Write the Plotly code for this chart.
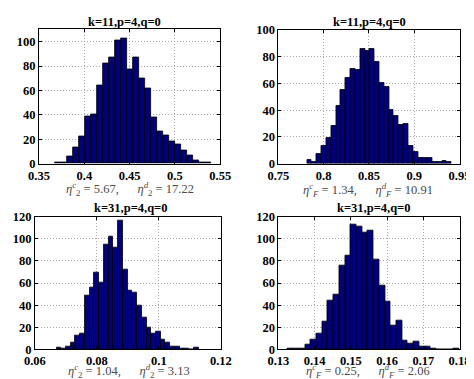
import plotly.graph_objects as go

# ---------------- data ----------------
titles = ["k=11,p=4,q=0", "k=11,p=4,q=0", "k=31,p=4,q=0", "k=31,p=4,q=0"]

counts_a = [1, 1, 6, 13, 22, 39, 40, 64, 82, 87, 101, 103, 77, 87, 70, 62, 38, 26,
            23, 18, 16, 11, 7, 3, 1, 1]
edges_a = [0.3678, 0.5402]

counts_b = [3, 1, 7, 13, 19, 28, 43, 55, 64, 71, 70, 86, 84, 86, 76, 60, 57, 40,
            36, 29, 30, 13, 9, 4, 4, 4, 1, 1, 2, 1]
edges_b = [0.7816, 0.9413]

counts_c = [2, 1, 3, 6, 13, 14, 49, 56, 69, 60, 95, 102, 92, 116, 72, 53, 51, 40,
            29, 20, 14, 16, 9, 6, 3, 3, 1, 1, 0, 2]
edges_c = [0.06695, 0.1128]

counts_d = [1, 1, 1, 4, 9, 14, 25, 44, 50, 76, 85, 113, 111, 106, 107, 81, 58, 43,
            22, 26, 8, 5, 7, 3, 3, 1, 0, 0, 0, 1]
edges_d = [0.1326, 0.1799]

xrange_a, xrange_b, xrange_c, xrange_d = [0.35, 0.55], [0.75, 0.95], [0.06, 0.12], [0.13, 0.18]
yrange_a, yrange_b, yrange_c, yrange_d = [0, 110], [0, 100], [0, 120], [0, 120]

xticks_a = [0.35, 0.4, 0.45, 0.5, 0.55]
xlabels_a = ["0.35", "0.4", "0.45", "0.5", "0.55"]
xticks_b = [0.75, 0.8, 0.85, 0.9, 0.95]
xlabels_b = ["0.75", "0.8", "0.85", "0.9", "0.95"]
xticks_c = [0.06, 0.08, 0.1, 0.12]
xlabels_c = ["0.06", "0.08", "0.1", "0.12"]
xticks_d = [0.13, 0.14, 0.15, 0.16, 0.17, 0.18]
xlabels_d = ["0.13", "0.14", "0.15", "0.16", "0.17", "0.18"]

yticks_a = [0, 20, 40, 60, 80, 100]
yticks_b = [0, 20, 40, 60, 80, 100]
yticks_c = [0, 20, 40, 60, 80, 100, 120]
yticks_d = [0, 20, 40, 60, 80, 100, 120]

eta_sub = ["2", "F", "2", "F"]
eta_c = ["5.67", "1.34", "1.04", "0.25"]
eta_d = ["17.22", "10.91", "3.13", "2.06"]

# ---------------- figure ----------------
W, H = 474, 379
# plot boxes in pixels: left, right, top, bottom
boxes = [(21, 211, 15, 154.3), (272, 462, 15.5, 154.3),
         (16.7, 211.7, 209.3, 347.3), (272, 462, 209.3, 347.3)]
title_pos = [(111, 7), (368, 7.5), (117, 200), (372, 200)]
label_pos = [(116, 181), (366, 181.5), (115, 370), (366, 370)]

panels = [
    (counts_a, edges_a, xrange_a, yrange_a, xticks_a, xlabels_a, yticks_a),
    (counts_b, edges_b, xrange_b, yrange_b, xticks_b, xlabels_b, yticks_b),
    (counts_c, edges_c, xrange_c, yrange_c, xticks_c, xlabels_c, yticks_c),
    (counts_d, edges_d, xrange_d, yrange_d, xticks_d, xlabels_d, yticks_d),
]

fig = go.Figure()
tickfont = dict(family="Liberation Serif", size=12.5, color="black")
layout = {}
annotations = []

for i, (counts, edges, xr, yr, xt, xl, yt) in enumerate(panels):
    n = len(counts)
    w = (edges[1] - edges[0]) / n
    centers = [edges[0] + (k + 0.5) * w for k in range(n)]
    sfx = "" if i == 0 else str(i + 1)
    fig.add_trace(go.Bar(
        x=centers, y=counts, width=[w] * n,
        marker=dict(color="#00007f", line=dict(color="black", width=0.8)),
        xaxis="x" + sfx, yaxis="y" + sfx, showlegend=False,
        hoverinfo="x+y",
    ))
    l, r, t, b = boxes[i]
    common = dict(showline=True, linecolor="black", linewidth=1, mirror="ticks",
                  ticks="inside", ticklen=3, tickcolor="black",
                  showgrid=True, gridcolor="#a8a8a8", griddash="1px,2px", gridwidth=1,
                  zeroline=False, tickfont=tickfont)
    layout["xaxis" + sfx] = dict(common, domain=[l / W, r / W], range=xr,
                                 anchor="y" + sfx, tickvals=xt,
                                 ticktext=["<b>" + s + "</b>" for s in xl])
    layout["yaxis" + sfx] = dict(common, domain=[1 - b / H, 1 - t / H], range=yr,
                                 anchor="x" + sfx, tickvals=yt,
                                 ticktext=["<b>" + str(v) + "</b>" for v in yt])
    tx, ty = title_pos[i]
    annotations.append(dict(text="<b>" + titles[i] + "</b>", x=tx / W, y=1 - ty / H,
                            xref="paper", yref="paper", showarrow=False,
                            xanchor="center", yanchor="middle",
                            font=dict(family="Liberation Serif", size=12.5,
                                      color="black")))
    lx, ly = label_pos[i]
    s = eta_sub[i]
    sub = "<i>F</i>" if s == "F" else s
    txt = ("<i>η</i><sup><i>c</i></sup><sub>" + sub + "</sub> = " + eta_c[i] +
           ",\u2003\u2002<i>η</i><sup><i>d</i></sup><sub>" + sub + "</sub> = " + eta_d[i])
    annotations.append(dict(text=txt, x=lx / W, y=1 - ly / H, xref="paper",
                            yref="paper", showarrow=False, xanchor="center",
                            yanchor="middle",
                            font=dict(family="Liberation Serif", size=12.5,
                                      color="#4a4a4a")))

fig.update_layout(**layout)
fig.update_layout(
    width=W, height=H, margin=dict(l=0, r=0, t=0, b=0),
    paper_bgcolor="white", plot_bgcolor="white",
    bargap=0, annotations=annotations, showlegend=False,
)

fig.write_html("out.html")
